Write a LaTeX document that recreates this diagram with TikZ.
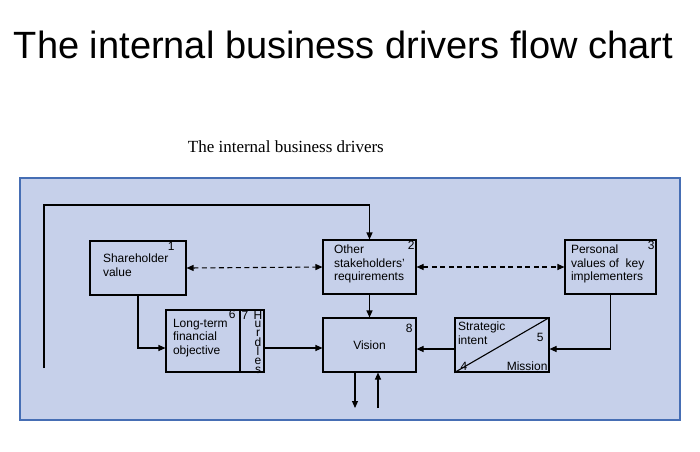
\documentclass[tikz,border=0pt]{standalone}
\usepackage{fontspec}
\setmainfont{Liberation Sans}
\newfontfamily\capserif{Liberation Serif}
\usetikzlibrary{arrows.meta}
\definecolor{panel}{RGB}{198,208,234}
\definecolor{panelrim}{RGB}{70,110,180}
\begin{document}
\begin{tikzpicture}[x=1pt,y=-1pt,line width=1.1pt,
  box/.style={draw,minimum width=#1,minimum height=54pt,inner sep=0pt},
  txt/.style={font=\fontsize{12}{13.5}\selectfont,align=left,anchor=north west,inner sep=0pt},
  num/.style={font=\fontsize{12}{13}\selectfont,anchor=north east,inner sep=1.5pt},
  arr/.style={-{Triangle[length=7pt,width=6pt]}},
  darr/.style={dash pattern=on 5pt off 3.5pt,{Triangle[length=7pt,width=6pt]}-{Triangle[length=7pt,width=6pt]}}]
\useasboundingbox (0,0) rectangle (700,451);
\node[font=\fontsize{38}{42}\selectfont,anchor=west] (title) at (10,45) {The internal business drivers flow chart};
\node[font=\fontsize{17}{19}\selectfont\capserif,anchor=west] (sub) at (184,147) {The internal business drivers};
\draw[panelrim,fill=panel,line width=1.3pt] (20,178) rectangle (680,420);
% boxes
\node[box=96pt] (share) at (138,268) {};
\node[box=93pt] (other) at (369.5,267) {};
\node[box=91pt] (pers) at (610.5,267) {};
\node[box=74pt,minimum height=62pt] (lto) at (203,341) {};
\node[box=24pt,minimum height=62pt] (hurd) at (252,341) {};
\node[box=93pt] (vis) at (369.5,345) {};
\node[box=94pt] (strat) at (502,345) {};
% texts
\node[txt] at ([shift={(13,13)}]share.north west) {Shareholder\\value};
\node[num] at ([shift={(-10,0)}]share.north east) {1};
\node[txt] at ([shift={(11,5)}]other.north west) {Other\\stakeholders'\\requirements};
\node[num] at (other.north east) {2};
\node[txt] at ([shift={(6,5)}]pers.north west) {Personal\\values of~ key\\implementers};
\node[num] at (pers.north east) {3};
\node[txt] at ([shift={(7,9)}]lto.north west) {Long-term\\financial\\objective};
\node[num] at ([shift={(-3,-1)}]lto.north east) {6};
\node[font=\fontsize{12}{13}\selectfont,anchor=north west,inner sep=1.5pt] at (hurd.north west) {7};
\node[font=\fontsize{12}{8.6}\selectfont,align=center,anchor=north,inner sep=1pt] at ([xshift=6pt]hurd.north) {H\\u\\r\\d\\l\\e\\s};
\node[font=\fontsize{12}{13}\selectfont] at (vis) {Vision};
\node[num] at ([shift={(-2,5)}]vis.north east) {8};
\draw (strat.south west) -- (strat.north east);
\node[txt] at ([shift={(3,4)}]strat.north west) {Strategic\\intent};
\node[font=\fontsize{12}{13}\selectfont,anchor=south west,inner sep=1.5pt] at ([xshift=4pt]strat.south west) {4};
\node[num] at ([shift={(-4,14)}]strat.north east) {5};
\node[font=\fontsize{12}{13}\selectfont,anchor=south east,inner sep=1.5pt] at (strat.south east) {Mission};
% connectors
\coordinate (fb) at (44,368);
\coordinate (fbtop) at (44,205);
\coordinate (lvl) at (0,348);
\coordinate (rvl) at (0,349);
\draw[arr] (fb) -- (fbtop) -| (other.north);
\draw[darr] (share.east) -- (other.west);
\draw[darr] (other.east) -- (pers.west);
\draw[arr] (share.south) |- (lto.west |- lvl);
\draw[arr] (pers.south) |- (strat.east |- rvl);
\draw[arr] (hurd.east |- lvl) -- (vis.west |- lvl);
\draw[arr] (strat.west |- rvl) -- (vis.east |- rvl);
\draw[arr] (other.south) -- (vis.north);
\coordinate (out) at (355,408);
\coordinate (in) at (378,408);
\draw[arr] (vis.south -| out) -- (out);
\draw[arr] (in) -- (vis.south -| in);
\end{tikzpicture}
\end{document}
